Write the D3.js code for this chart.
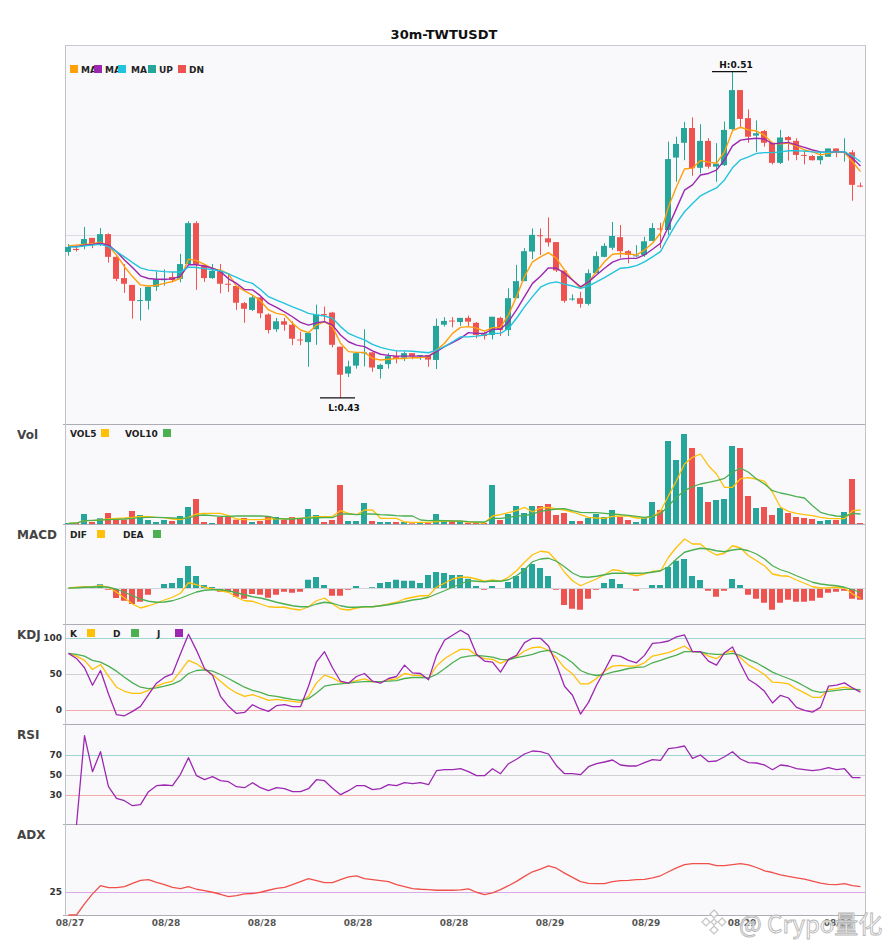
<!DOCTYPE html>
<html>
<head>
<meta charset="utf-8">
<script src="https://cdn.jsdelivr.net/npm/d3@7"></script>
<style>
body { margin: 0; background: #fff; }
text { font-family: "DejaVu Sans", sans-serif; }
</style>
</head>
<body>
<svg id="chart" width="885" height="950"></svg>
<script>
// ---- data (30m candles, TWT/USDT) ----
const open = [0.4654,0.4662,0.4670,0.4691,0.4677,0.4701,0.4641,0.4585,0.4567,0.4526,
  0.4525,0.4562,0.4581,0.4588,0.4583,0.4622,0.4730,0.4620,0.4585,0.4603,
  0.4570,0.4564,0.4519,0.4501,0.4534,0.4489,0.4450,0.4471,0.4462,0.4423,
  0.4416,0.4450,0.4490,0.4494,0.4404,0.4333,0.4354,0.4388,0.4389,0.4345,
  0.4358,0.4379,0.4375,0.4387,0.4379,0.4382,0.4369,0.4462,0.4473,0.4469,
  0.4480,0.4467,0.4439,0.4435,0.4480,0.4448,0.4532,0.4577,0.4655,0.4698,
  0.4690,0.4680,0.4605,0.4530,0.4532,0.4517,0.4598,0.4641,0.4665,0.4693,
  0.4656,0.4643,0.4646,0.4683,0.4716,0.4712,0.4903,0.4942,0.4981,0.4876,
  0.4947,0.4879,0.4883,0.4978,0.5081,0.5007,0.4961,0.4973,0.4942,0.4889,
  0.4957,0.4947,0.4910,0.4907,0.4896,0.4905,0.4927,0.4917,0.4917,0.4829];
const close = [0.4667,0.4659,0.4688,0.4673,0.4701,0.4641,0.4583,0.4570,0.4525,0.4527,
  0.4562,0.4582,0.4582,0.4580,0.4622,0.4730,0.4620,0.4585,0.4604,0.4570,
  0.4569,0.4520,0.4504,0.4534,0.4492,0.4448,0.4471,0.4462,0.4425,0.4422,
  0.4440,0.4489,0.4488,0.4409,0.4330,0.4352,0.4387,0.4389,0.4349,0.4356,
  0.4379,0.4372,0.4387,0.4379,0.4382,0.4370,0.4459,0.4472,0.4471,0.4480,
  0.4470,0.4435,0.4432,0.4483,0.4448,0.4532,0.4577,0.4656,0.4699,0.4696,
  0.4679,0.4605,0.4525,0.4531,0.4517,0.4598,0.4643,0.4670,0.4696,0.4656,
  0.4646,0.4645,0.4682,0.4717,0.4715,0.4899,0.4939,0.4981,0.4875,0.4947,
  0.4879,0.4887,0.4976,0.5081,0.5005,0.4958,0.4967,0.4942,0.4889,0.4956,
  0.4949,0.4910,0.4908,0.4896,0.4907,0.4927,0.4918,0.4918,0.4831,0.4827];
const high = [0.4675,0.4673,0.4720,0.4691,0.4717,0.4703,0.4642,0.4622,0.4567,0.4559,
  0.4562,0.4603,0.4608,0.4602,0.4649,0.4735,0.4735,0.4620,0.4622,0.4622,
  0.4594,0.4564,0.4522,0.4540,0.4534,0.4492,0.4480,0.4480,0.4471,0.4443,
  0.4440,0.4515,0.4510,0.4496,0.4404,0.4367,0.4387,0.4450,0.4389,0.4359,
  0.4387,0.4393,0.4392,0.4387,0.4382,0.4382,0.4478,0.4482,0.4482,0.4480,
  0.4486,0.4469,0.4443,0.4483,0.4483,0.4558,0.4620,0.4664,0.4716,0.4716,
  0.4745,0.4680,0.4605,0.4542,0.4549,0.4608,0.4655,0.4677,0.4733,0.4725,
  0.4659,0.4672,0.4694,0.4730,0.4731,0.4945,0.4958,0.4997,0.5009,0.4991,
  0.4954,0.4941,0.4998,0.5130,0.5081,0.5030,0.5001,0.4976,0.4942,0.4976,
  0.4960,0.4954,0.4921,0.4910,0.4918,0.4927,0.4927,0.4954,0.4923,0.4837];
const low = [0.4644,0.4655,0.4661,0.4664,0.4670,0.4626,0.4577,0.4546,0.4478,0.4473,
  0.4502,0.4551,0.4565,0.4574,0.4574,0.4621,0.4554,0.4575,0.4583,0.4545,
  0.4548,0.4501,0.4467,0.4498,0.4479,0.4439,0.4443,0.4446,0.4408,0.4408,
  0.4351,0.4409,0.4471,0.4402,0.4269,0.4324,0.4346,0.4352,0.4338,0.4320,
  0.4346,0.4360,0.4366,0.4371,0.4369,0.4351,0.4345,0.4457,0.4455,0.4459,
  0.4459,0.4426,0.4423,0.4423,0.4432,0.4432,0.4532,0.4577,0.4635,0.4646,
  0.4668,0.4601,0.4520,0.4525,0.4507,0.4513,0.4598,0.4640,0.4659,0.4639,
  0.4624,0.4641,0.4641,0.4683,0.4664,0.4699,0.4839,0.4896,0.4855,0.4861,
  0.4874,0.4839,0.4881,0.4976,0.4980,0.4942,0.4918,0.4932,0.4885,0.4886,
  0.4895,0.4896,0.4885,0.4895,0.4885,0.4905,0.4904,0.4892,0.4789,0.4825];

const ma5 = [0.4670,0.4672,0.4674,0.4676,0.4680,0.4670,0.4646,0.4615,0.4589,0.4567,
  0.4564,0.4566,0.4571,0.4576,0.4584,0.4635,0.4631,0.4621,0.4610,0.4606,
  0.4596,0.4564,0.4551,0.4540,0.4525,0.4501,0.4492,0.4488,0.4466,0.4448,
  0.4441,0.4461,0.4470,0.4457,0.4413,0.4391,0.4389,0.4389,0.4373,0.4369,
  0.4371,0.4373,0.4373,0.4375,0.4375,0.4378,0.4395,0.4413,0.4439,0.4455,
  0.4457,0.4453,0.4445,0.4454,0.4455,0.4488,0.4536,0.4589,0.4628,0.4641,
  0.4652,0.4637,0.4606,0.4580,0.4558,0.4575,0.4602,0.4628,0.4648,0.4650,
  0.4649,0.4646,0.4659,0.4677,0.4704,0.4773,0.4826,0.4873,0.4875,0.4895,
  0.4891,0.4888,0.4918,0.4974,0.4983,0.4976,0.4973,0.4962,0.4941,0.4939,
  0.4941,0.4933,0.4923,0.4918,0.4910,0.4914,0.4918,0.4916,0.4892,0.4866];
const ma10 = [0.4668,0.4668,0.4672,0.4674,0.4677,0.4672,0.4655,0.4633,0.4613,0.4591,
  0.4584,0.4582,0.4582,0.4583,0.4590,0.4620,0.4620,0.4617,0.4611,0.4602,
  0.4583,0.4571,0.4555,0.4554,0.4538,0.4518,0.4508,0.4496,0.4483,0.4468,
  0.4461,0.4467,0.4470,0.4461,0.4435,0.4417,0.4408,0.4404,0.4393,0.4384,
  0.4381,0.4379,0.4379,0.4379,0.4379,0.4379,0.4391,0.4404,0.4415,0.4426,
  0.4441,0.4439,0.4439,0.4450,0.4450,0.4470,0.4501,0.4536,0.4571,0.4590,
  0.4612,0.4611,0.4598,0.4580,0.4562,0.4575,0.4593,0.4611,0.4627,0.4635,
  0.4637,0.4637,0.4646,0.4661,0.4677,0.4721,0.4769,0.4817,0.4831,0.4857,
  0.4861,0.4870,0.4897,0.4934,0.4949,0.4952,0.4954,0.4952,0.4939,0.4941,
  0.4943,0.4936,0.4930,0.4923,0.4918,0.4917,0.4918,0.4918,0.4901,0.4881];
const ma20 = [0.4668,0.4667,0.4670,0.4672,0.4674,0.4668,0.4655,0.4641,0.4626,0.4612,
  0.4606,0.4604,0.4602,0.4601,0.4601,0.4614,0.4613,0.4610,0.4607,0.4604,
  0.4596,0.4587,0.4577,0.4571,0.4555,0.4536,0.4527,0.4518,0.4509,0.4501,
  0.4492,0.4488,0.4485,0.4479,0.4457,0.4439,0.4430,0.4422,0.4410,0.4402,
  0.4397,0.4393,0.4393,0.4392,0.4390,0.4388,0.4395,0.4404,0.4417,0.4430,
  0.4430,0.4432,0.4435,0.4439,0.4439,0.4452,0.4479,0.4509,0.4536,0.4561,
  0.4571,0.4575,0.4569,0.4564,0.4558,0.4564,0.4575,0.4586,0.4599,0.4611,
  0.4613,0.4618,0.4628,0.4641,0.4655,0.4694,0.4730,0.4760,0.4782,0.4802,
  0.4813,0.4823,0.4844,0.4876,0.4897,0.4905,0.4914,0.4916,0.4916,0.4918,
  0.4921,0.4921,0.4920,0.4918,0.4917,0.4917,0.4918,0.4918,0.4907,0.4892];

// volume, thousands
const volume = [10,10,100,20,57,110,43,43,130,90,40,20,40,30,80,170,250,20,10,70,
  70,43,60,20,30,80,70,40,70,60,150,90,20,40,390,30,30,210,30,20,
  20,20,20,7,20,10,100,30,30,20,13,10,10,390,40,100,180,110,180,180,
  200,90,110,30,30,60,100,70,140,70,40,20,60,220,140,830,640,900,760,370,
  220,240,250,780,760,280,160,170,90,160,110,70,60,50,30,40,40,120,450,10];
const vol5 = [7,10,33,33,40,50,57,60,67,77,73,67,63,50,43,67,100,107,107,107,
  83,50,43,43,43,50,53,50,57,57,67,73,73,77,133,107,93,140,140,57,
  57,57,20,17,17,17,23,30,30,27,20,13,10,80,93,113,133,167,120,160,
  167,150,140,120,93,67,60,57,77,80,80,60,60,77,127,283,433,600,667,700,
  583,500,367,367,453,463,450,427,317,167,127,107,93,83,67,57,53,53,133,140];
const vol10 = [7,10,33,37,40,43,47,50,57,63,67,67,63,60,57,60,83,90,83,77,
  77,80,80,80,80,77,57,50,50,57,60,60,67,63,100,100,93,100,100,93,
  90,83,80,80,40,33,37,33,30,30,23,20,20,57,57,67,80,83,100,127,
  140,150,153,133,117,113,113,107,100,93,87,77,67,77,100,183,267,333,373,400,
  417,433,457,517,560,517,450,400,333,310,293,273,260,183,117,93,80,77,107,100];

// MACD, in units of 1e-4
const macdHist = [0,0,0.5,0.4,1.5,-0.7,-4,-5.1,-6.4,-5.5,-2.7,-0.1,1.6,2,4,8.8,4.8,1.2,0.4,-1.5,
  -1.5,-3.5,-4.3,-2.4,-2.7,-3.9,-2.7,-1.5,-1.9,-1.5,3.3,4.4,1.2,-3.1,-3.1,-0.7,0.8,-0.1,0.3,2,
  2.4,3.3,2.9,2.9,2,5.2,6.4,6,5.2,5.2,3.7,0.8,-0.7,0.8,-0.3,2.4,4.8,8,9.6,8,
  4.8,-0.7,-6.8,-8.3,-8.7,-4.3,-0.7,2,3.6,1.6,0,-1.1,0,1.2,1.2,8.4,10.9,11.6,4.8,3.2,
  -1.1,-3.5,-1.1,3.6,1.2,-2.7,-4.3,-5.9,-8.7,-5.9,-4.7,-5.5,-5.5,-5.1,-3.9,-1.9,-1.5,-1.1,-4.3,-4.7];
const dif = [0,0.3,0.5,0.5,0.9,0.3,-1.7,-4,-6.4,-8,-7.1,-6.1,-4.8,-3.7,-2.1,2.1,1.3,0.3,-0.4,-1.1,
  -1.7,-3.7,-5.1,-5.3,-6.4,-7.5,-7.7,-7.7,-8.4,-8.8,-7.5,-5.1,-4,-6.4,-8.4,-8.8,-8,-7.5,-7.5,-7.1,
  -6.4,-5.7,-4.4,-3.7,-3.1,-3.1,0.3,1.9,3.6,4.3,4.3,3.6,2.7,3.2,2.7,4.3,6.9,10.3,13.3,14.7,
  14.3,10.9,6.3,2.9,0.9,2.3,3.6,5.3,7.3,6.9,5.6,4.9,5.6,6.7,6.7,12.3,16.3,19.6,17.6,17.6,
  14.9,13.2,13.9,16.9,16,12.9,10.9,8.9,5.6,4.9,4.7,3.2,1.9,0.5,0,0.1,0.3,0,-2.4,-4];
const dea = [0,0.1,0.3,0.4,0.5,0.3,-0.5,-1.7,-3.1,-4.4,-5.3,-5.7,-5.6,-5.1,-4.1,-2.8,-1.6,-0.9,-0.7,-0.7,
  -1.1,-1.9,-2.7,-3.5,-4,-4.8,-5.7,-6.4,-7.1,-7.5,-7.5,-6.4,-5.7,-6.1,-7.1,-7.7,-7.7,-7.5,-7.5,-7.1,
  -6.7,-6.1,-5.5,-4.8,-4.4,-3.7,-2.4,-1.1,0.3,1.6,2.9,2.7,2.5,2.8,2.7,3.3,4.9,7.3,10.5,11.6,
  11.9,10.7,8.5,6,4.5,4.3,4.7,5.3,5.9,5.9,5.9,5.9,6,6.3,6.9,8.5,11.6,14.3,15.2,15.9,
  15.6,14.9,14.5,15.2,15.6,14.9,13.6,11.6,8.9,7.3,6.3,4.9,3.6,2.3,1.6,1.2,0.9,0.3,-0.7,-1.7];

const kdjK = [78.9,75,69,56.3,63.4,47,31.5,25.8,23,23,27.2,32.9,37.1,39.9,54,69,64.3,56.3,49.3,39.9,
  30.5,23.5,18.8,21.1,17.4,13.1,14.6,13.1,11.7,10.3,18.8,37.6,48.4,44.6,38.5,37.6,40.8,43.2,39,38.5,
  41.8,43.2,50.7,48.4,47.9,43.7,61,71.4,78.4,84.5,84.5,76.1,71.4,70.4,64.8,70.4,74.2,82.2,86.9,87.8,
  83.1,72.8,58.7,50.2,36.2,36.2,43.7,54,61,62,61,61,65.7,75.1,77.5,79.8,84.5,89.2,81.2,81.2,
  75.1,71.4,79.8,82.2,72.8,62.4,56.3,49.3,38.5,38,36.2,29.1,23.5,17.4,17.4,28.2,29.6,31.5,29.1,27.2];
const kdjD = [78.9,77.5,75,69,66.7,61,54,45.5,37.6,31.5,29.6,30.5,32.9,35.7,40.8,50.7,54.9,55.9,54,49.3,
  43.7,37.6,31.5,27.2,24.4,20.2,18.8,16.4,14.6,13.1,15.5,23.5,32.9,35.2,36.2,37.1,38.5,39.4,39.4,39.4,
  39.9,40.8,43.7,45.1,45.1,44.6,49.3,57.3,65.7,72.8,75.1,76.1,75.1,73.7,70.4,69.9,72.8,75.1,77.5,81.2,
  83.1,79.8,73.7,65.7,54.9,50.2,47.9,49.3,52.6,54.9,57.7,59.2,60.1,65.7,69,72.8,76.5,81.2,81.2,80.8,
  78.4,77.5,77.5,78.9,76.1,70.4,65.7,59.2,52.6,47.9,43.7,39,32.9,26.8,24.4,25.8,27.2,28.6,28.6,28.2];
const kdjJ = [78.9,71.8,58.7,34.3,54.9,22,-7,-8.5,-2.3,4.7,21.1,37.1,45.5,50.2,78.4,105.6,83.1,57.7,48.4,18.8,
  4.7,-5.2,-3.8,7,1.4,-2.3,5.6,7,4.2,4.2,32.9,67.1,81.2,58.7,39.9,37.1,46.5,50.7,39.9,37.1,
  43.7,46.5,62.4,51.6,50.7,41.8,76.1,97.2,104.2,111.3,104.7,77.5,68.1,66.7,52.6,70.4,76.1,93.9,100,100,
  89.2,63.4,32.9,20.2,-6.1,10.3,34.3,54.9,76.1,74.6,69,65.7,76.1,93,93.9,96.2,101.9,104.7,81.2,81.2,
  68.1,62.4,79.8,87.8,64.3,42.3,35.2,25.8,9.4,20.2,16.4,3.3,-0.9,-3.3,3.3,32.9,34.3,37.6,30.5,24.4];

const rsi = [null,0,89.3,53.3,73.3,38.3,26.7,24.3,19.3,20.3,33.3,39.3,40,39.3,50.7,67.3,49.3,45.3,48.3,44.3,
  43.3,38.3,37.3,42.3,37.3,34.3,37.3,36.3,33.3,33.3,36.3,45.3,44.3,36.7,30.3,34.3,39.3,39.3,35.3,36.3,
  40.3,39.3,42.3,41.3,42.3,40.3,54.3,55.3,55.3,56.3,53.3,49.3,49.3,56.3,51.3,61.3,65.7,71,74,73.3,
  71,59.3,51.3,51.3,50.3,58.3,61.3,63,65,60,59,59,62.3,65.3,64.7,76.3,77.3,79,66.7,70,
  63.3,64,68.3,73.3,66,62.3,62,60,55.3,60,59,56.3,55.3,54.3,55.3,57.3,55.3,56.3,47.3,47.3];
const adx = [0,0,12.3,23.2,32.2,30.1,30.1,31.2,34.8,38,38.8,35.9,33.3,30.4,29,31.2,28.3,26.8,25,22.8,
  20.3,21.4,23.2,23.6,25,27.2,29.3,30.4,33.3,36.6,39.9,37.7,35.5,35.5,38.8,42,43.1,39.9,38.8,37.7,
  36.6,33.3,31.2,29,28.3,27.9,27.2,27.2,27.2,27.5,28.6,25,22.5,24.3,27.9,32.2,37,42.4,47.5,50.4,
  54,51.4,46,41.3,36.6,34.8,34.4,34.4,36.6,37.7,38,38.8,39.1,40.9,43.1,47.5,51.8,55.4,56.5,56.5,
  56.5,54.3,54.3,55.4,56.5,55.1,52.2,48.6,46.7,44.2,42.4,40.9,39.5,37.3,35.1,33.7,33.3,34.4,32.2,31.2];

const tickIndex = [0,12,24,36,48,60,72,84,96];
const tickLabels = ["08/27","08/28","08/28","08/28","08/28","08/29","08/29","08/29","08/29"];

// ---- drawing ----
const UP = "#26a69a", DN = "#ef5350";
const svg = d3.select("#chart");
const n = open.length;
const x = d3.scaleBand().domain(d3.range(n)).range([64, 864]);
const cx = i => x(i) + x.bandwidth() / 2;
const isUp = i => close[i] >= open[i];

const yMain = d3.scaleLinear().domain([0.42, 0.52]).range([424, 45]);
const yVol = d3.scaleLinear().domain([0, 1000]).range([524, 424]);
const yMacd = d3.scaleLinear().domain([-14.4, 25.6]).range([624, 524]);
const yKdj = d3.scaleLinear().domain([-20, 120]).range([724, 624]);
const yRsi = d3.scaleLinear().domain([0, 100]).range([825, 725]);
const yAdx = d3.scaleLinear().domain([0, 100]).range([915, 824]);

svg.append("text").attr("x", 444).attr("y", 39).attr("text-anchor", "middle")
  .style("font-size", "13px").style("font-weight", "bold").attr("fill", "#111")
  .text("30m-TWTUSDT");

svg.append("rect").attr("x", 65).attr("y", 45).attr("width", 800).attr("height", 870)
  .attr("fill", "#f9f9fc");

// reference lines
function hline(y, color) {
  svg.append("line").attr("x1", 65).attr("x2", 865).attr("y1", Math.round(y) + 0.5).attr("y2", Math.round(y) + 0.5)
    .attr("stroke", color).attr("stroke-width", 1);
}
hline(yMain(0.47), "#dcdce6");
hline(yKdj(100), "#9ed6cf"); hline(yKdj(50), "#cfcfd4"); hline(yKdj(0), "#f4aaaa");
hline(yRsi(70), "#9ed6cf"); hline(yRsi(50), "#cfcfd4"); hline(yRsi(30), "#f4aaaa");
hline(yAdx(25), "#dba9e6");

// frame and panel separators
svg.append("line").attr("x1", 65).attr("x2", 865).attr("y1", 45.5).attr("y2", 45.5).attr("stroke", "#c9c9d2");
[424, 524, 624, 724, 824, 915].forEach(y => {
  svg.append("line").attr("x1", 63).attr("x2", 865).attr("y1", y + 0.5).attr("y2", y + 0.5).attr("stroke", "#acacb4");
});
svg.append("line").attr("x1", 65.5).attr("x2", 65.5).attr("y1", 45).attr("y2", 916).attr("stroke", "#c2c2ca");
svg.append("line").attr("x1", 865.5).attr("x2", 865.5).attr("y1", 45).attr("y2", 916).attr("stroke", "#c2c2ca");

// candles
const candles = svg.append("g");
d3.range(n).forEach(i => {
  const col = isUp(i) ? UP : DN;
  candles.append("line").attr("x1", cx(i) + 0.5).attr("x2", cx(i) + 0.5)
    .attr("y1", yMain(high[i])).attr("y2", yMain(low[i])).attr("stroke", col).attr("stroke-width", 1);
  const top = yMain(Math.max(open[i], close[i])), bot = yMain(Math.min(open[i], close[i]));
  candles.append("rect").attr("x", cx(i) - 3).attr("width", 6)
    .attr("y", top).attr("height", Math.max(1, bot - top)).attr("fill", col);
});

const line = (scale) => d3.line().defined(d => d != null).x((d, i) => cx(i) + 0.5).y(d => scale(d));
function path(data, scale, color, w) {
  svg.append("path").datum(data).attr("d", line(scale)).attr("fill", "none")
    .attr("stroke", color).attr("stroke-width", w || 1.4).attr("stroke-linejoin", "round");
}
path(ma5, yMain, "#ff9f0a");
path(ma10, yMain, "#9c27b0");
path(ma20, yMain, "#22c3dc");

// high / low marks
const hiIdx = d3.maxIndex(high), loIdx = d3.minIndex(low);
svg.append("line").attr("x1", cx(hiIdx) - 20).attr("x2", cx(hiIdx) + 15)
  .attr("y1", yMain(high[hiIdx])).attr("y2", yMain(high[hiIdx])).attr("stroke", "#111").attr("stroke-width", 1.3);
svg.append("text").attr("x", cx(hiIdx) + 4).attr("y", yMain(high[hiIdx]) - 4).attr("text-anchor", "middle")
  .style("font-size", "9px").style("font-weight", "bold").attr("fill", "#111").text("H:" + high[hiIdx].toFixed(2));
svg.append("line").attr("x1", cx(loIdx) - 20).attr("x2", cx(loIdx) + 15)
  .attr("y1", yMain(low[loIdx])).attr("y2", yMain(low[loIdx])).attr("stroke", "#111").attr("stroke-width", 1.3);
svg.append("text").attr("x", cx(loIdx) + 4).attr("y", yMain(low[loIdx]) + 13).attr("text-anchor", "middle")
  .style("font-size", "9px").style("font-weight", "bold").attr("fill", "#111").text("L:" + low[loIdx].toFixed(2));

// volume
d3.range(n).forEach(i => {
  svg.append("rect").attr("x", cx(i) - 3).attr("width", 6)
    .attr("y", yVol(volume[i])).attr("height", yVol(0) - yVol(volume[i]))
    .attr("fill", isUp(i) ? UP : DN);
});
path(vol5, yVol, "#ffc107", 1.3);
path(vol10, yVol, "#4caf50", 1.3);

// macd
d3.range(n).forEach(i => {
  const v = macdHist[i];
  svg.append("rect").attr("x", cx(i) - 3).attr("width", 6)
    .attr("y", Math.min(yMacd(v), yMacd(0))).attr("height", Math.abs(yMacd(v) - yMacd(0)))
    .attr("fill", v >= 0 ? UP : DN);
});
svg.append("line").attr("x1", 65).attr("x2", 865).attr("y1", yMacd(0) + 0.5).attr("y2", yMacd(0) + 0.5)
  .attr("stroke", "#d4d4dc");
path(dif, yMacd, "#ffc107", 1.3);
path(dea, yMacd, "#4caf50", 1.3);

// kdj, rsi, adx
path(kdjK, yKdj, "#ffc107", 1.3);
path(kdjD, yKdj, "#4caf50", 1.3);
path(kdjJ, yKdj, "#9c27b0", 1.3);
path(rsi, yRsi, "#9c27b0", 1.3);
path(adx, yAdx, "#f0504a", 1.3);

// y tick labels
function ytick(v, scale) {
  svg.append("text").attr("x", 62).attr("y", scale(v)).attr("dy", "0.35em").attr("text-anchor", "end")
    .style("font-size", "9px").style("font-weight", "bold").attr("fill", "#333").text(v);
}
[100, 50, 0].forEach(v => ytick(v, yKdj));
[70, 50, 30].forEach(v => ytick(v, yRsi));
ytick(25, yAdx);

// panel titles
[["Vol", 439], ["MACD", 539], ["KDJ", 639], ["RSI", 739], ["ADX", 839]].forEach(([t, y]) => {
  svg.append("text").attr("x", 17).attr("y", y).style("font-size", "12px").style("font-weight", "bold")
    .attr("fill", "#444").text(t);
});

// legends
function legend(items, y) {
  items.forEach(([sx, col, tx, label]) => {
    if (tx != null) svg.append("text").attr("x", tx).attr("y", y + 7.5).style("font-size", "9px")
      .style("font-weight", "bold").attr("fill", "#222").text(label);
    svg.append("rect").attr("x", sx).attr("y", y).attr("width", 8).attr("height", 8).attr("fill", col);
  });
}
legend([[70, "#ff9f0a", 81, "MA"], [94, "#9c27b0", 105, "MA"], [118, "#22c3dc", 131, "MA"],
        [148, UP, 159, "UP"], [178, DN, 189, "DN"]], 65);
legend([[101, "#ffc107", 70, "VOL5"], [163, "#4caf50", 125, "VOL10"]], 429);
legend([[97, "#ffc107", 70, "DIF"], [153, "#4caf50", 123, "DEA"]], 530);
legend([[87, "#ffc107", 70, "K"], [131, "#4caf50", 113, "D"], [175, "#9c27b0", 157, "J"]], 629);

// x axis labels
tickIndex.forEach((idx, k) => {
  svg.append("text").attr("x", cx(idx) + 2).attr("y", 926).attr("text-anchor", "middle")
    .style("font-size", "9px").style("font-weight", "bold").attr("fill", "#555").text(tickLabels[k]);
});

// watermark (white text with grey outline, drawn over the last axis labels as in the source)
const wm = svg.append("g");
const dia = (cxp, cyp, r) => `M${cxp},${cyp - r} L${cxp + r},${cyp} L${cxp},${cyp + r} L${cxp - r},${cyp} Z`;
[[714, 914, 4], [706, 922, 4], [722, 922, 4], [714, 930, 4], [714, 922, 3]].forEach(([a, b, r]) => {
  wm.append("path").attr("d", dia(a, b, r)).attr("fill", "#fff").attr("fill-opacity", 0.85)
    .attr("stroke", "#c4c4c4").attr("stroke-width", 1.2);
});
wm.append("text").attr("x", 739).attr("y", 933)
  .style("font-family", "'Noto Sans CJK SC', sans-serif").style("font-size", "24px")
  .attr("fill", "#fff").attr("fill-opacity", 0.8).attr("stroke", "#b8b8b8").attr("stroke-width", 0.9)
  .text("@ Crypo量化");
</script>
</body>
</html>
